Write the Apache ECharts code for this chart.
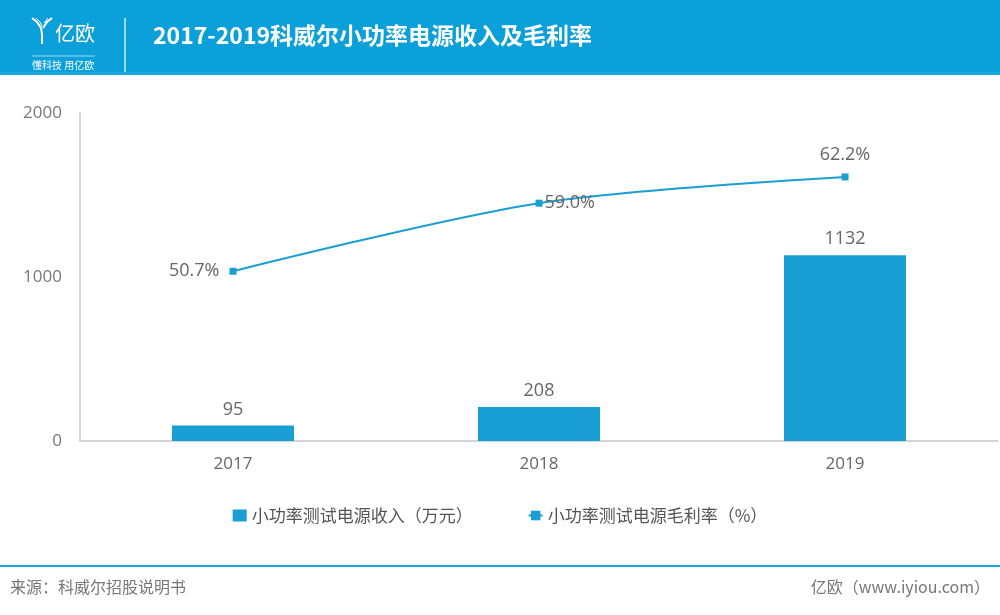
<!DOCTYPE html>
<html>
<head>
<meta charset="utf-8">
<script src="https://cdn.jsdelivr.net/npm/echarts@6/dist/echarts.min.js"></script>
<style>
  html, body { margin: 0; padding: 0; background: #fff; }
  #chart { width: 1000px; height: 615px; }
</style>
</head>
<body>
<div id="chart"></div>
<script>
const years = ['2017', '2018', '2019'];
const revenue = [95, 208, 1132];
const margin = [50.7, 59.0, 62.2];
const revenueTicks = [0, 1000, 2000];

const blue = '#1a9fd4';
const font = '"Noto Sans CJK SC", "Open Sans", sans-serif';
const numFont = '"Open Sans", "Noto Sans CJK SC", sans-serif';

let chart = echarts.init(document.getElementById('chart'));

chart.setOption({
  animation: false,
  textStyle: { fontFamily: font },
  grid: { left: 80, right: 2, top: 113, bottom: 174 },
  graphic: [
    // 顶部蓝条
    { type: 'rect', shape: { x: 0, y: 0, width: 1000, height: 75 }, style: { fill: '#0ba0d9' } },
    { type: 'rect', shape: { x: 0, y: 72, width: 1000, height: 3 }, style: { fill: '#1aa6dc' } },
    // logo
    { type: 'polyline', shape: { points: [[32, 18], [37, 22], [41, 28], [42, 34], [42, 44]] }, style: { stroke: '#fff', lineWidth: 2, fill: null } },
    { type: 'polyline', shape: { points: [[52, 18], [47, 22], [43, 28]] }, style: { stroke: '#fff', lineWidth: 2, fill: null } },
    { type: 'polyline', shape: { points: [[36, 18], [40, 22], [42, 26]] }, style: { stroke: '#fff', lineWidth: 1, fill: null } },
    { type: 'polyline', shape: { points: [[48, 18], [44, 23]] }, style: { stroke: '#fff', lineWidth: 1, fill: null } },
    { type: 'text', left: 55, top: 23, style: { text: '亿欧', fill: '#fff', font: '20px ' + font } },
    { type: 'line', shape: { x1: 32, y1: 56, x2: 95, y2: 56 }, style: { stroke: 'rgba(255,255,255,0.6)', lineWidth: 1 } },
    { type: 'text', left: 32, top: 60, style: { text: '懂科技 用亿欧', fill: '#fff', font: '10px ' + font } },
    { type: 'line', shape: { x1: 125, y1: 18, x2: 125, y2: 72 }, style: { stroke: 'rgba(255,255,255,0.8)', lineWidth: 1.5 } },
    { type: 'text', left: 153, top: 24, style: { text: '2017-2019科威尔小功率电源收入及毛利率', fill: '#fff', font: 'bold 23px ' + font } },
    // 底部
    { type: 'rect', shape: { x: 0, y: 565, width: 1000, height: 2 }, style: { fill: '#1aa6dc' } },
    { type: 'text', left: 10, top: 579, style: { text: '来源：科威尔招股说明书', fill: '#777', font: '16px ' + font } },
    { type: 'text', right: 10, top: 579, style: { text: '亿欧（www.iyiou.com）', fill: '#777', font: '16px ' + font } }
  ],
  legend: {
    bottom: 86,
    left: 'center',
    itemGap: 55,
    itemWidth: 14,
    itemHeight: 12,
    textStyle: { color: '#555', fontSize: 17, fontFamily: font },
    data: [
      { name: '小功率测试电源收入（万元）', icon: 'rect' },
      { name: '小功率测试电源毛利率（%）' }
    ]
  },
  xAxis: {
    type: 'category',
    data: years,
    axisLine: { lineStyle: { color: '#c8c8c8', width: 1.5 } },
    axisTick: { show: false },
    axisLabel: { color: '#666', fontSize: 17, margin: 15, fontFamily: numFont }
  },
  yAxis: [
    {
      type: 'value',
      min: revenueTicks[0],
      max: revenueTicks[revenueTicks.length - 1],
      interval: 1000,
      axisLine: { show: true, lineStyle: { color: '#c8c8c8', width: 1.5 } },
      axisTick: { show: false },
      splitLine: { show: false },
      axisLabel: { color: '#777', fontSize: 17, margin: 18, fontFamily: numFont, formatter: v => String(v) }
    },
    {
      type: 'value',
      min: 30,
      max: 70,
      show: false,
      splitLine: { show: false }
    }
  ],
  series: [
    {
      name: '小功率测试电源收入（万元）',
      type: 'bar',
      data: revenue,
      barWidth: 122,
      itemStyle: { color: blue },
      label: { show: true, position: 'top', color: '#666', fontSize: 18, distance: 7, fontFamily: numFont }
    },
    {
      name: '小功率测试电源毛利率（%）',
      type: 'line',
      yAxisIndex: 1,
      data: margin.map((v, i) => ({
        value: v,
        label: { position: ['left', 'right', 'top'][i], distance: [10, 2, 10][i] }
      })),
      smooth: 0.3,
      symbol: 'rect',
      symbolSize: 7,
      lineStyle: { color: blue, width: 2 },
      itemStyle: { color: blue },
      label: {
        show: true,
        color: '#666',
        fontSize: 18,
        fontFamily: numFont,
        formatter: p => p.value.toFixed(1) + '%'
      },
      emphasis: { disabled: true }
    }
  ]
});
</script>
</body>
</html>
